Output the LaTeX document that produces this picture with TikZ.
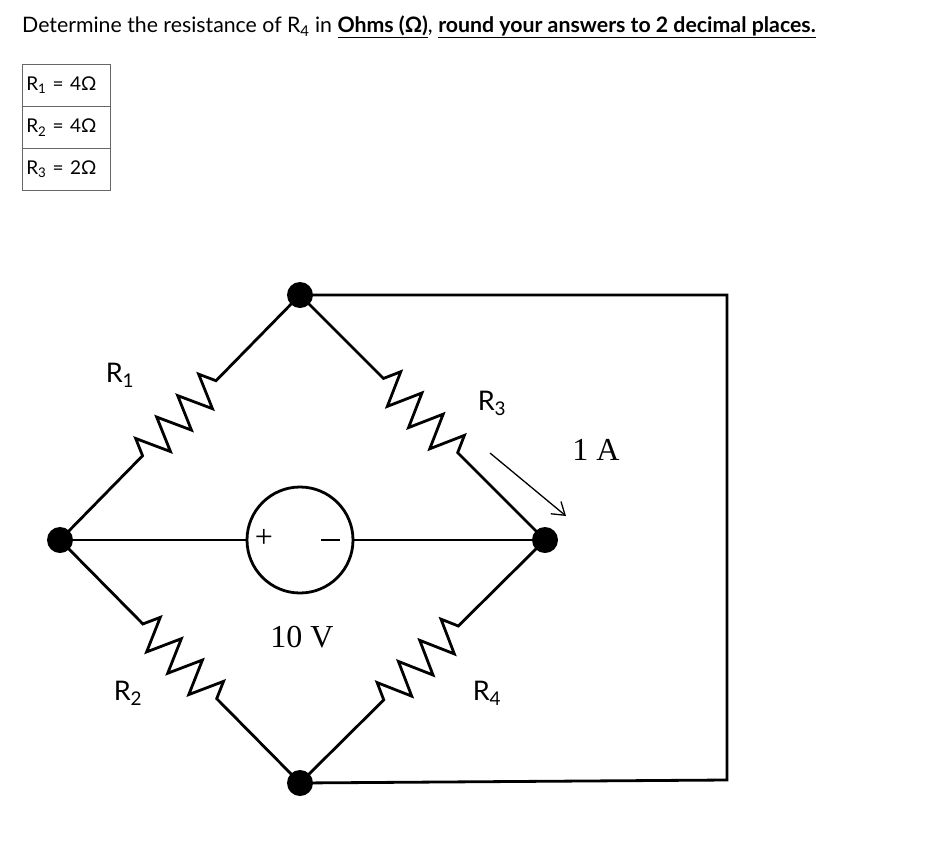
\documentclass[tikz,border=0pt]{standalone}
\usepackage{fontspec}
\setmainfont{Lato}
\newfontfamily\serifv{Liberation Serif}
\usetikzlibrary{decorations.pathmorphing,arrows.meta}
\begin{document}
\begin{tikzpicture}[x=1pt,y=-1pt,
  wire/.style={line width=2.8pt},
  dot/.style={circle,fill=black,inner sep=0pt,minimum size=26pt},
  res/.style={wire,line join=miter,decorate,decoration={zigzag,segment length=30,amplitude=17,pre length=118,post length=118}},
  cell/.style={draw=black!60,line width=0.6pt,minimum width=88pt,minimum height=42pt,inner sep=3pt,font=\fontsize{19}{22}\selectfont,anchor=north west,text width=80pt,align=left},
  lab/.style={font=\fontsize{27}{30}\selectfont}]
\useasboundingbox (0,0) rectangle (946,860);
\node[anchor=west,font=\fontsize{21.3}{24}\selectfont,inner sep=0pt] (title) at (22,27) {Determine the resistance of R\textsubscript{4} in \textbf{\underline{Ohms (Ω)}}, \textbf{\underline{round your answers to 2 decimal places.}}};
\node[cell] (c1) at (22,64) {R\textsubscript{1} = 4Ω};
\node[cell] (c2) at (22,106) {R\textsubscript{2} = 4Ω};
\node[cell] (c3) at (22,148) {R\textsubscript{3} = 2Ω};
\node[dot] (t) at (300,295) {};
\node[dot] (l) at (60,540) {};
\node[dot] (r) at (545,540) {};
\node[dot] (b) at (300,783) {};
\node[circle,draw,line width=2.8pt,minimum size=106pt,inner sep=0pt] (s) at (300,540) {};
\coordinate (tr) at (727,295);
\coordinate (br) at (727,780);
\draw[res] (l.center) -- (t.center);
\draw[res] (t.center) -- (r.center);
\draw[res] (l.center) -- (b.center);
\draw[res] (b.center) -- (r.center);
\draw[wire] (l) -- (s) (s) -- (r);
\draw[wire] (t.center) -- (tr) -- (br) -- (b.center);
\node[font=\serifv\fontsize{32}{32}\selectfont] (plus) at (264,538) {+};
\coordinate (m1) at (321,540);
\coordinate (m2) at (340,540);
\draw[line width=2pt] (m1) -- (m2);
\coordinate (a1) at (490,453);
\coordinate (a2) at (566,516);
\draw[line width=1.3pt,-{Straight Barb[length=12pt,width=16pt]}] (a1) -- (a2);
\node[lab] (L1) at (120,375) {R\textsubscript{1}};
\node[lab] (L3) at (492,403) {R\textsubscript{3}};
\node[lab] (L2) at (128,693) {R\textsubscript{2}};
\node[lab] (L4) at (487,693) {R\textsubscript{4}};
\node[font=\serifv\fontsize{32}{32}\selectfont] (ia) at (596,450) {1 A};
\node[font=\serifv\fontsize{32}{32}\selectfont] (v) at (302,637) {10 V};
\end{tikzpicture}
\end{document}
